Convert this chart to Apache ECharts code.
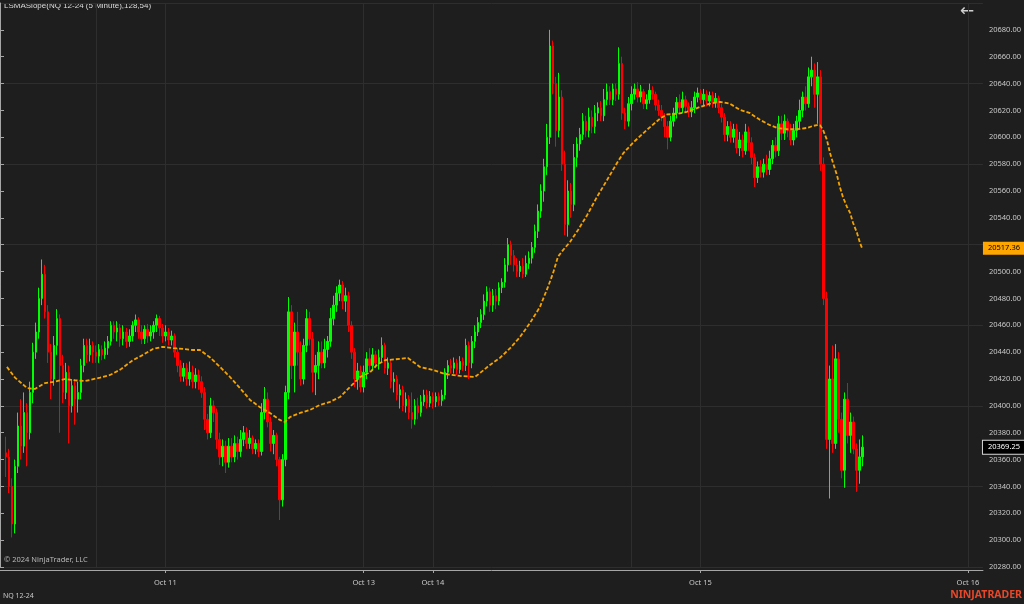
<!DOCTYPE html>
<html>
<head>
<meta charset="utf-8">
<title>LSMASlope NQ 12-24 (5 Minute)</title>
<script src="https://cdn.jsdelivr.net/npm/echarts@6/dist/echarts.min.js"></script>
<style>
  html, body { margin: 0; padding: 0; background: #1e1e1e; }
  #chart { width: 1024px; height: 604px; }
</style>
</head>
<body>
<div id="chart"></div>
<script>
// x slots (about 3 px each), the date labels and the extra 18:00 session lines
const slotCount = 328;
const dayLabels = ['Oct 11', 'Oct 13', 'Oct 14', 'Oct 15', 'Oct 16'];
const daySlots = [55, 121, 144, 233, 322];
const sessionSlots = [32, 210];

// candles, [open, close, low, high], grouped by trading day
const barsOct10 = [
  [20365, 20362, 20347, 20377], [20362, 20340, 20335, 20368], [20340, 20312, 20302, 20346], [20312, 20355, 20305, 20360],
  [20355, 20385, 20350, 20395], [20385, 20370, 20360, 20405], [20370, 20395, 20365, 20410], [20395, 20380, 20355, 20402],
  [20380, 20410, 20375, 20418], [20410, 20440, 20402, 20447], [20440, 20455, 20435, 20462], [20455, 20480, 20450, 20488],
  [20480, 20498, 20475, 20509], [20498, 20470, 20465, 20505], [20470, 20440, 20432, 20475], [20440, 20420, 20405, 20446],
  [20420, 20445, 20415, 20452], [20445, 20465, 20438, 20472], [20465, 20430, 20380, 20468], [20430, 20410, 20402, 20438],
  [20410, 20425, 20405, 20432], [20425, 20400, 20372, 20430], [20400, 20415, 20395, 20420], [20415, 20405, 20386, 20420],
  [20405, 20410, 20395, 20418], [20410, 20430, 20405, 20435], [20430, 20445, 20425, 20450], [20445, 20438, 20432, 20450],
  [20438, 20445, 20433, 20450], [20445, 20440, 20432, 20448]
];
const barsOct11 = [
  [20440, 20437, 20432, 20445], [20437, 20442, 20432, 20446], [20442, 20438, 20434, 20445], [20438, 20443, 20435, 20448],
  [20443, 20448, 20438, 20452], [20448, 20460, 20445, 20463], [20460, 20455, 20450, 20463], [20455, 20458, 20448, 20463],
  [20458, 20450, 20444, 20461], [20450, 20455, 20445, 20460], [20455, 20448, 20443, 20458], [20448, 20452, 20444, 20457],
  [20452, 20460, 20448, 20463], [20460, 20464, 20455, 20468], [20464, 20455, 20450, 20466], [20455, 20450, 20446, 20460],
  [20450, 20457, 20446, 20460], [20457, 20452, 20447, 20461], [20452, 20455, 20448, 20460], [20455, 20460, 20450, 20463],
  [20460, 20465, 20455, 20468], [20465, 20458, 20452, 20467], [20458, 20452, 20447, 20461], [20452, 20455, 20448, 20460],
  [20455, 20449, 20445, 20458], [20449, 20452, 20445, 20456], [20452, 20440, 20436, 20454], [20440, 20430, 20425, 20443],
  [20430, 20422, 20418, 20434], [20422, 20428, 20418, 20432], [20428, 20420, 20415, 20432], [20420, 20425, 20415, 20433],
  [20425, 20418, 20413, 20430], [20418, 20423, 20413, 20428], [20423, 20418, 20412, 20427], [20418, 20410, 20406, 20422],
  [20410, 20390, 20382, 20414], [20390, 20380, 20375, 20394], [20380, 20400, 20376, 20406], [20400, 20395, 20388, 20404],
  [20395, 20375, 20368, 20398], [20375, 20362, 20356, 20380], [20362, 20370, 20355, 20375], [20370, 20358, 20350, 20374],
  [20358, 20370, 20354, 20376], [20370, 20362, 20358, 20376], [20362, 20372, 20358, 20378], [20372, 20366, 20360, 20377],
  [20366, 20375, 20362, 20382], [20375, 20380, 20370, 20385], [20380, 20372, 20368, 20384], [20372, 20376, 20368, 20382],
  [20376, 20368, 20364, 20378], [20368, 20372, 20364, 20375], [20372, 20366, 20362, 20375], [20366, 20395, 20363, 20402],
  [20395, 20405, 20390, 20414], [20405, 20388, 20384, 20410], [20388, 20372, 20366, 20392], [20372, 20378, 20364, 20382],
  [20378, 20360, 20355, 20380], [20360, 20330, 20315, 20362], [20330, 20360, 20325, 20364], [20360, 20410, 20355, 20415],
  [20410, 20470, 20405, 20481], [20470, 20430, 20420, 20475], [20430, 20455, 20410, 20462], [20455, 20440, 20430, 20470],
  [20440, 20420, 20415, 20448], [20420, 20445, 20416, 20450], [20445, 20465, 20440, 20472], [20465, 20450, 20445, 20470],
  [20450, 20425, 20410, 20455], [20425, 20430, 20408, 20438], [20430, 20440, 20420, 20448], [20440, 20432, 20428, 20448],
  [20432, 20442, 20428, 20450], [20442, 20448, 20436, 20452], [20448, 20465, 20444, 20473], [20465, 20475, 20460, 20482],
  [20475, 20484, 20470, 20489], [20484, 20490, 20478, 20494], [20490, 20478, 20472, 20493], [20478, 20482, 20470, 20488],
  [20482, 20460, 20455, 20485], [20460, 20440, 20435, 20463], [20440, 20420, 20414, 20443], [20420, 20426, 20412, 20432],
  [20426, 20414, 20410, 20430]
];
const barsOct14 = [
  [20414, 20425, 20410, 20430], [20425, 20435, 20420, 20440], [20435, 20430, 20425, 20443], [20430, 20438, 20426, 20443],
  [20438, 20432, 20428, 20441], [20432, 20436, 20427, 20442], [20436, 20445, 20432, 20451], [20445, 20428, 20424, 20447],
  [20428, 20432, 20423, 20436], [20432, 20418, 20413, 20434], [20418, 20420, 20410, 20425], [20420, 20408, 20404, 20423],
  [20408, 20412, 20398, 20416], [20412, 20400, 20396, 20415], [20400, 20405, 20395, 20410], [20405, 20395, 20390, 20408],
  [20395, 20390, 20383, 20410], [20390, 20400, 20386, 20405], [20400, 20395, 20390, 20406], [20395, 20403, 20392, 20408],
  [20403, 20408, 20400, 20412], [20408, 20402, 20398, 20412], [20402, 20407, 20399, 20411], [20407, 20403, 20398, 20410],
  [20403, 20407, 20399, 20410], [20407, 20404, 20400, 20410], [20404, 20408, 20400, 20412], [20408, 20425, 20405, 20428],
  [20425, 20430, 20420, 20434], [20430, 20428, 20424, 20435], [20428, 20432, 20424, 20436], [20432, 20427, 20423, 20435],
  [20427, 20433, 20424, 20437], [20433, 20430, 20426, 20436], [20430, 20445, 20426, 20450], [20445, 20432, 20420, 20448],
  [20432, 20448, 20428, 20452], [20448, 20455, 20443, 20460], [20455, 20462, 20452, 20466], [20462, 20468, 20458, 20472],
  [20468, 20478, 20464, 20483], [20478, 20485, 20474, 20489], [20485, 20475, 20470, 20488], [20475, 20482, 20470, 20487],
  [20482, 20478, 20472, 20487], [20478, 20488, 20475, 20492], [20488, 20492, 20484, 20495], [20492, 20505, 20488, 20510],
  [20505, 20520, 20500, 20525], [20520, 20512, 20505, 20523], [20512, 20505, 20500, 20516], [20505, 20500, 20496, 20510],
  [20500, 20504, 20496, 20508], [20504, 20498, 20495, 20510], [20498, 20506, 20496, 20512], [20506, 20510, 20502, 20515],
  [20510, 20518, 20506, 20522], [20518, 20530, 20514, 20535], [20530, 20545, 20525, 20550], [20545, 20560, 20540, 20565],
  [20560, 20578, 20552, 20584], [20578, 20600, 20572, 20610], [20600, 20668, 20595, 20680], [20668, 20640, 20632, 20672],
  [20640, 20605, 20593, 20645], [20605, 20630, 20600, 20648], [20630, 20580, 20575, 20635], [20580, 20535, 20527, 20590],
  [20535, 20560, 20526, 20568], [20560, 20550, 20540, 20566], [20550, 20585, 20545, 20595], [20585, 20595, 20578, 20600],
  [20595, 20602, 20590, 20607], [20602, 20612, 20598, 20618], [20612, 20605, 20600, 20616], [20605, 20615, 20600, 20622],
  [20615, 20608, 20603, 20620], [20608, 20618, 20603, 20624], [20618, 20622, 20612, 20626], [20622, 20616, 20612, 20627],
  [20616, 20628, 20612, 20636], [20628, 20634, 20624, 20640], [20634, 20628, 20624, 20638], [20628, 20636, 20624, 20640],
  [20636, 20632, 20627, 20640], [20632, 20655, 20628, 20667], [20655, 20618, 20613, 20660], [20618, 20612, 20606, 20622],
  [20612, 20625, 20608, 20630]
];
const barsOct15 = [
  [20625, 20632, 20620, 20638], [20632, 20636, 20628, 20640], [20636, 20630, 20626, 20641], [20630, 20634, 20626, 20639],
  [20634, 20625, 20621, 20636], [20625, 20628, 20621, 20632], [20628, 20635, 20625, 20640], [20635, 20632, 20628, 20638],
  [20632, 20624, 20620, 20634], [20624, 20620, 20616, 20628], [20620, 20615, 20612, 20624], [20615, 20608, 20600, 20618],
  [20608, 20600, 20591, 20612], [20600, 20612, 20597, 20616], [20612, 20618, 20608, 20622], [20618, 20626, 20614, 20630],
  [20626, 20622, 20618, 20632], [20622, 20628, 20618, 20634], [20628, 20623, 20618, 20631], [20623, 20619, 20615, 20626],
  [20619, 20622, 20615, 20627], [20622, 20630, 20618, 20634], [20630, 20633, 20626, 20637], [20633, 20628, 20625, 20636],
  [20628, 20632, 20624, 20636], [20632, 20627, 20623, 20635], [20627, 20631, 20623, 20634], [20631, 20626, 20622, 20634],
  [20626, 20629, 20622, 20633], [20629, 20622, 20618, 20631], [20622, 20615, 20611, 20625], [20615, 20602, 20597, 20618],
  [20602, 20608, 20597, 20612], [20608, 20600, 20596, 20612], [20600, 20606, 20596, 20610], [20606, 20592, 20588, 20610],
  [20592, 20598, 20586, 20604], [20598, 20590, 20585, 20602], [20590, 20604, 20587, 20610], [20604, 20596, 20590, 20608],
  [20596, 20585, 20580, 20600], [20585, 20570, 20563, 20588], [20570, 20578, 20566, 20582], [20578, 20574, 20570, 20583],
  [20574, 20580, 20570, 20584], [20580, 20576, 20572, 20587], [20576, 20584, 20572, 20590], [20584, 20594, 20580, 20598],
  [20594, 20590, 20585, 20600], [20590, 20610, 20586, 20616], [20610, 20603, 20598, 20616], [20603, 20612, 20598, 20617],
  [20612, 20605, 20600, 20614], [20605, 20598, 20594, 20610], [20598, 20605, 20594, 20610], [20605, 20612, 20600, 20616],
  [20612, 20620, 20606, 20628], [20620, 20630, 20615, 20634], [20630, 20625, 20620, 20638], [20625, 20645, 20622, 20652],
  [20645, 20650, 20638, 20660], [20650, 20632, 20622, 20655], [20632, 20645, 20610, 20656], [20645, 20580, 20575, 20650],
  [20580, 20480, 20475, 20585], [20480, 20375, 20368, 20485], [20375, 20420, 20331, 20430], [20420, 20372, 20365, 20445],
  [20372, 20435, 20368, 20446], [20435, 20390, 20380, 20440], [20390, 20352, 20346, 20395], [20352, 20405, 20339, 20410],
  [20405, 20378, 20372, 20417], [20378, 20388, 20365, 20395], [20388, 20368, 20364, 20392], [20368, 20352, 20336, 20372],
  [20352, 20362, 20342, 20375], [20362, 20369.25, 20355, 20378]
];

// LSMA(128,54) line, [slot, value]
const lsma = [
  [2.3, 20429], [5.0, 20421], [9.0, 20413.3], [11.6, 20412.6], [15.0, 20417], [18.3, 20418], [21.6, 20420],
  [25.0, 20419], [28.3, 20418.5], [33.3, 20421], [36.6, 20423], [40.0, 20427], [44.2, 20434], [47.6, 20438],
  [50.9, 20442.4], [54.2, 20444], [57.6, 20443], [60.9, 20442.4], [64.2, 20441.6], [66.5, 20441.6], [69.9, 20436],
  [73.2, 20429], [76.5, 20421.5], [79.8, 20413.3], [83.2, 20404.4], [86.5, 20399], [89.8, 20394.7], [93.1, 20389.5],
  [94.8, 20388], [96.5, 20391.7], [99.8, 20394.7], [103.1, 20397], [106.5, 20400.7], [109.8, 20403], [113.1, 20406.6],
  [116.4, 20414], [119.8, 20421.5], [123.1, 20425], [125.4, 20430.5], [128.1, 20434], [133.1, 20435], [135.7, 20435.7],
  [139.7, 20429], [144.0, 20426.7], [148.0, 20423.8], [153.0, 20422.3], [158.0, 20421.5], [159.7, 20424.5], [163.0, 20430.5],
  [166.3, 20435.7], [169.7, 20443], [173.0, 20451.3], [176.3, 20461.7], [179.6, 20473.6], [182.3, 20488.6], [184.0, 20499],
  [185.6, 20511], [187.3, 20516], [189.6, 20522], [192.3, 20531], [195.3, 20542], [198.6, 20555.6], [201.9, 20568],
  [205.3, 20581], [207.3, 20588], [210.6, 20596], [215.2, 20605.5], [219.6, 20614], [221.9, 20617], [225.2, 20617.4],
  [228.5, 20619], [232.9, 20622.6], [236.2, 20625], [239.5, 20626.4], [242.8, 20625], [246.2, 20620.4], [249.5, 20618],
  [252.8, 20613], [256.2, 20609], [258.5, 20607], [261.8, 20606], [265.1, 20606], [268.5, 20607], [270.5, 20608.5],
  [271.8, 20609], [272.8, 20609], [273.8, 20605.5], [275.1, 20598], [276.1, 20588.4], [277.1, 20581], [278.4, 20572],
  [279.4, 20563], [280.4, 20555.6], [281.8, 20548], [282.8, 20543.7], [283.8, 20536.2], [285.1, 20528.8], [286.1, 20521.3],
  [286.8, 20517.36]
];

const FONT = '"Noto Sans", sans-serif';
const TEXT = '#c8c8c8';
const GRID = '#2e2e2e';
const AXIS = '#a6a6a6';

let blank = ['-', '-', '-', '-'];
let candleData = [blank, blank].concat(barsOct10, barsOct11, barsOct14, barsOct15);
let lastClose = barsOct15[barsOct15.length - 1][1];
let lastLsma = lsma[lsma.length - 1][1];
let gridSlots = daySlots.concat(sessionSlots);

let slots = [];
for (let i = 0; i < slotCount; i++) {
  let k = daySlots.indexOf(i);
  slots.push(k >= 0 ? dayLabels[k] : String(i));
}

/**
 * price tag drawn just right of the plot, on the price axis
 */
function priceTag(value, fg, bg, border) {
  return {
    silent: true,
    symbol: ['none', 'none'],
    lineStyle: { color: 'rgba(0,0,0,0)', width: 0 },
    label: {
      show: true,
      position: 'end',
      distance: 0,
      formatter: value.toFixed(2),
      color: fg,
      backgroundColor: bg,
      borderColor: border,
      borderWidth: border ? 1 : 0,
      padding: [3, 4, 2, 5],
      fontFamily: FONT,
      fontSize: 7.5
    },
    emphasis: { disabled: true },
    data: [{ yAxis: value }]
  };
}

let chart = echarts.init(document.getElementById('chart'), null, { renderer: 'canvas' });

chart.setOption({
  backgroundColor: '#1e1e1e',
  animation: false,
  grid: { left: 0, right: 41, top: 3, bottom: 37 },
  xAxis: [
    {
      type: 'category',
      data: slots,
      boundaryGap: false,
      offset: 3,
      axisLine: { lineStyle: { color: AXIS, width: 1 } },
      axisTick: {
        show: true,
        length: 3,
        interval: (i) => daySlots.includes(i),
        lineStyle: { color: AXIS }
      },
      axisLabel: {
        interval: (i) => daySlots.includes(i),
        color: TEXT,
        fontFamily: FONT,
        fontSize: 7.5,
        margin: 9
      },
      splitLine: {
        show: true,
        interval: (i) => gridSlots.includes(i),
        lineStyle: { color: GRID, width: 1 }
      }
    },
    { type: 'value', min: 0, max: slotCount - 1, show: false }
  ],
  yAxis: [
    {
      type: 'value',
      position: 'right',
      min: 20280,
      max: 20700,
      interval: 20,
      axisLine: { show: true, lineStyle: { color: AXIS, width: 1 } },
      axisTick: { show: true, length: 4, lineStyle: { color: AXIS } },
      axisLabel: {
        showMaxLabel: false,
        margin: 6,
        color: TEXT,
        fontFamily: FONT,
        fontSize: 7.5,
        formatter: (v) => v.toFixed(2)
      },
      splitLine: { show: false }
    },
    {
      type: 'value',
      position: 'right',
      min: 20280,
      max: 20700,
      interval: 60,
      axisLine: { show: false },
      axisTick: { show: false },
      axisLabel: { show: false },
      splitLine: { show: true, lineStyle: { color: GRID, width: 1 } }
    }
  ],
  series: [
    {
      name: 'NQ 12-24',
      type: 'candlestick',
      data: candleData,
      barWidth: 2,
      itemStyle: {
        color: '#00ff00',
        color0: '#ff0000',
        borderColor: '#00ff00',
        borderColor0: '#ff0000',
        borderWidth: 1
      },
      markLine: priceTag(lastClose, '#ffffff', '#000000', '#d8d8d8')
    },
    {
      name: 'LSMASlope',
      type: 'line',
      xAxisIndex: 1,
      data: lsma,
      symbol: 'none',
      lineStyle: { color: '#f5a300', width: 1.8, type: [4, 2] },
      markLine: priceTag(lastLsma, '#000000', '#ffa500', null)
    }
  ],
  graphic: [
    {
      type: 'text', left: 4, top: 2,
      style: { text: 'LSMASlope(NQ 12-24 (5 Minute),128,54)', fill: '#dcdcdc', font: '8px "Liberation Sans", sans-serif' }
    },
    {
      type: 'text', left: 960, top: 3,
      style: { text: '←', fill: '#d0d0d0', font: '17px "DejaVu Sans"' }
    },
    {
      type: 'text', left: 4, top: 556,
      style: { text: '© 2024 NinjaTrader, LLC', fill: '#b8b8b8', font: '7.5px ' + FONT }
    },
    {
      type: 'text', left: 3, top: 592,
      style: { text: 'NQ 12-24', fill: '#c8c8c8', font: '7px ' + FONT }
    },
    {
      type: 'text', right: 2, top: 590,
      style: { text: 'NINJATRADER', fill: '#e8482a', font: 'bold 10.5px ' + FONT }
    }
  ]
});
</script>
</body>
</html>
